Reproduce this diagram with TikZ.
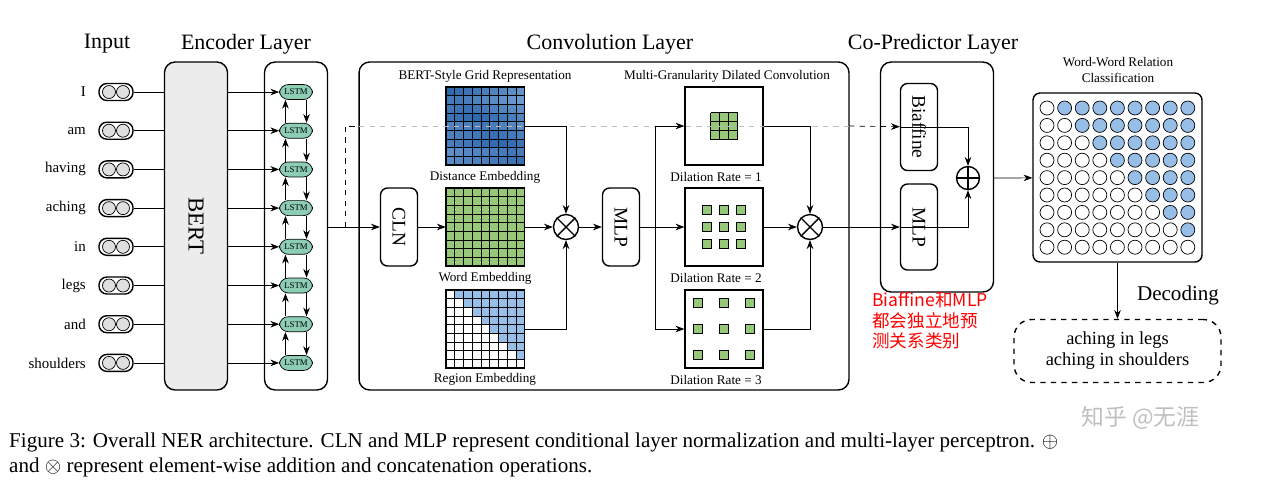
\documentclass[tikz,border=0pt]{standalone}
\usepackage{fontspec}
\setmainfont{Liberation Serif}
\newfontfamily\cjk{Noto Sans CJK SC}
\usetikzlibrary{arrows.meta,positioning}
\definecolor{lstmgreen}{RGB}{140,205,180}
\definecolor{gridgreen}{RGB}{150,200,120}
\definecolor{lightblue}{RGB}{150,190,230}
\definecolor{darkblue}{RGB}{40,100,170}
\tikzset{
  layer/.style={draw,rounded corners=6pt,thick},
  block/.style={draw,rounded corners=4pt,thick,minimum width=1.56cm,minimum height=0.74cm,font=\fontsize{11}{12}\selectfont},
  lstm/.style={draw,rounded corners=5pt,fill=lstmgreen,minimum width=0.66cm,minimum height=0.3cm,inner sep=0pt,font=\fontsize{5}{5}\selectfont},
  title/.style={font=\fontsize{12.5}{14}\selectfont},
  small/.style={font=\fontsize{7.5}{9}\selectfont},
  word/.style={font=\fontsize{8.5}{10}\selectfont,anchor=east},
  op/.style={draw,thick,circle,minimum size=0.5cm,inner sep=0pt},
  >={Stealth[length=5pt]}
}
\begin{document}
\begin{tikzpicture}[x=0.02cm,y=-0.02cm]
\useasboundingbox (0,0) rectangle (1271,485);

% titles
\node[title] at (107,44) {Input};
\node[title] at (246,44) {Encoder Layer};
\node[title] at (610,44) {Convolution Layer};
\node[title] at (933,44) {Co-Predictor Layer};

% layers
\node[layer,fill=gray!15,minimum width=1.26cm,minimum height=6.56cm] (bert) at (196,226) {};
\node[rotate=-90,font=\fontsize{13}{14}\selectfont] at (bert) {BERT};
\node[layer,minimum width=1.26cm,minimum height=6.56cm] (enc) at (296,226) {};
\node[layer,minimum width=9.8cm,minimum height=6.56cm] (conv) at (604,226) {};
\node[layer,minimum width=2.26cm,minimum height=4.6cm] (cop) at (937,177) {};

% input words and LSTMs
\foreach \w [count=\i] in {I,am,having,aching,in,legs,and,shoulders}{
  \pgfmathsetmacro\yy{92+(\i-1)*38.7}
  \node[word] at (92,\yy) {\w};
  \node[draw,thick,rounded corners=4.5pt,minimum width=0.68cm,minimum height=0.34cm,inner sep=0pt] (tok\i) at (116,\yy) {};
  \draw[fill=gray!25] (109,\yy) circle (6.5);
  \draw[fill=gray!25] (123,\yy) circle (6.5);
  \node[lstm] (l\i) at (296,\yy) {LSTM};
  \draw (tok\i.east) -- (165,\yy);
  \draw[->] (228,\yy) -- (l\i.west);
}
\foreach \i [evaluate=\i as \j using int(\i+1)] in {1,...,7}{
  \draw[->] ([xshift=-6pt]l\j.north) -- ([xshift=-6pt]l\i.south);
  \draw[->] ([xshift=6pt]l\i.south) -- ([xshift=6pt]l\j.north);
}

% convolution layer
\node[small] at (485,76) {BERT-Style Grid Representation};
\node[small] at (727,76) {Multi-Granularity Dilated Convolution};
\node[block,rotate=-90] (cln) at (399,227) {CLN};
\node[block,rotate=-90] (mlp1) at (621,227) {MLP};
\foreach \r in {0,...,8}{\foreach \c in {0,...,8}{
  \pgfmathsetmacro\pct{int(95-6*max(0,\c-\r)-8*mod(\r*5+\c*3,3)-4*max(0,\r-\c))}
  \fill[darkblue!\pct!lightblue] (446+\c*8.75,87+\r*8.67) rectangle +(8.75,8.67);
  \fill[gridgreen] (446+\c*8.75,188+\r*8.67) rectangle +(8.75,8.67);
  \ifnum\c>\r \fill[lightblue] (446+\c*8.75,290+\r*8.67) rectangle +(8.75,8.67); \fi
}}
\foreach \g/\y in {dist/87,wemb/188,remb/290}{
  \draw[thick] (446,\y) rectangle +(78.75,78);
  \foreach \i in {1,...,8}{
    \draw (446+\i*8.75,\y) -- +(0,78); \draw (446,\y+\i*8.67) -- +(78.75,0);
  }
  \node[inner sep=0pt,minimum width=1.575cm,minimum height=1.56cm] (\g g) at (485.4,\y+39) {};
}
\node[small] at (485,177) {Distance Embedding};
\node[small] at (485,278) {Word Embedding};
\node[small] at (485,379) {Region Embedding};

\node[op] (cat1) at (566,227) {};
\draw[thick] (cat1.north west) -- (cat1.south east) (cat1.north east) -- (cat1.south west);

% dilated convolutions
\foreach \k/\y in {1/126,2/227,3/329}{
  \node[draw,thick,minimum width=1.56cm,minimum height=1.56cm,inner sep=0pt] (d\k) at (724,\y) {};
  \node[small] at (716,\y+51) {Dilation Rate = \k};
}
\fill[gridgreen] (710.5,112.5) rectangle (737.5,139.5);
\foreach \i in {0,...,3}{
  \draw (710.5+\i*9,112.5) -- +(0,27);
  \draw (710.5,112.5+\i*9) -- +(27,0);
}
\foreach \a in {-1,0,1}{\foreach \b in {-1,0,1}{
  \draw[fill=gridgreen] (724+\a*17-4.5,227+\b*17-4.5) rectangle +(9,9);
  \draw[fill=gridgreen] (724+\a*26-4.5,329+\b*26-4.5) rectangle +(9,9);
}}
\node[op] (cat2) at (810,227) {};
\draw[thick] (cat2.north west) -- (cat2.south east) (cat2.north east) -- (cat2.south west);

% co-predictor
\node[block,rotate=-90,minimum width=1.74cm] (biaf) at (919,127) {Biaffine};
\node[block,rotate=-90,minimum width=1.72cm] (mlp2) at (919,227) {MLP};
\node[op,minimum size=0.46cm] (add) at (968,178) {};
\draw[thick] (add.north) -- (add.south) (add.west) -- (add.east);

% word-word grid
\node[small,align=center] at (1118,70) {Word-Word Relation\\Classification};
\node[draw,thick,rounded corners=4pt,minimum width=3.38cm,minimum height=3.38cm] (ww) at (1117.5,177.5) {};
\foreach \r in {0,...,8}{\foreach \c in {0,...,8}{
  \ifnum\c>\r \def\cc{lightblue}\else\def\cc{white}\fi
  \draw[fill=\cc] (1047+\c*17.6,108+\r*17.4) circle (7);
}}
\node[draw,thick,dashed,rounded corners=10pt,minimum width=4.14cm,minimum height=1.26cm,align=center,font=\fontsize{10.5}{12}\selectfont] (out) at (1117.5,351) {aching in legs\\aching in shoulders};
\node[font=\fontsize{12}{14}\selectfont] at (1178,295) {Decoding};
\node[text=red,font=\cjk\fontsize{10}{11.5}\selectfont,align=left,anchor=north west,inner sep=0pt] at (872,292) {Biaffine和MLP\\都会独立地预\\测关系类别};

% connectors
\coordinate (split) at (345,227);
\draw (enc.east |- split) -- (split);
\draw[->] (split) -- (cln);
\draw[dashed] (split) -- (345,126) -- (359,126);
\draw[dashed,gray!50] (359,126) -- (849,126);
\draw[dashed,->] (849,126) -- (biaf);
\draw[->] (cln) -- (wembg);
\draw[->] (wembg) -- (cat1);
\draw[->] (distg.east |- 0,126) -| (cat1.north);
\draw[->] (rembg.east |- 0,329) -| (cat1.south);
\draw[->] (cat1) -- (mlp1);
\coordinate (fork) at (655,227);
\draw (mlp1) -- (fork);
\draw[->] (fork) -- (d2);
\draw[->] (fork) |- (d1);
\draw[->] (fork) |- (d3);
\draw[->] (d1) -| (cat2.north);
\draw[->] (d3) -| (cat2.south);
\draw[->] (d2) -- (cat2);
\draw[->] (cat2) -- (mlp2);
\draw[->] (biaf.south) -| (add.north);
\draw[->] (mlp2.south) -| (add.south);
\draw[->] (cop.east |- add) -- (ww);
\draw[->] (ww) -- (out);

% caption
\node[anchor=west,font=\fontsize{12}{14}\selectfont] at (3,442) {Figure 3: Overall NER architecture. CLN and MLP represent conditional layer normalization and multi-layer perceptron. $\oplus$};
\node[anchor=west,font=\fontsize{12}{14}\selectfont] at (3,467) {and $\otimes$ represent element-wise addition and concatenation operations.};
\node[anchor=west,text=gray!50,font=\cjk\fontsize{13}{15}\selectfont] at (1075,418) {知乎 @无涯};
\end{tikzpicture}
\end{document}
